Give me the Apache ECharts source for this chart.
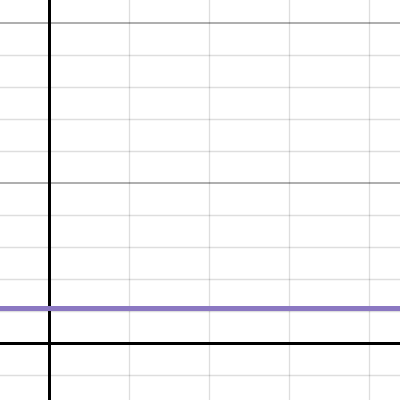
<!DOCTYPE html>
<html><head><meta charset="utf-8">
<script src="https://cdn.jsdelivr.net/npm/echarts@6/dist/echarts.min.js"></script>
<style>html,body{margin:0;padding:0;background:#fff}#c{width:400px;height:400px}</style>
</head><body><div id="c"></div>
<script>
// data
const lineX = [-1, 5];
const lineY = [1.08, 1.08];
// axis ranges (tick units)
const xRange = [-1, 5];
const yRange = [-5, 15];

const chart = echarts.init(document.getElementById('c'), null, {renderer: 'canvas'});
chart.setOption({
  animation: false,
  backgroundColor: '#ffffff',
  grid: {left: -31, right: -49, top: -137, bottom: -103, containLabel: false, outerBoundsMode: 'none'},
  xAxis: {
    type: 'value', min: xRange[0], max: xRange[1], interval: 1,
    axisLine: {show: true, onZero: true, lineStyle: {color: '#000', width: 3}},
    axisTick: {show: false}, axisLabel: {show: false},
    splitLine: {show: true, lineStyle: {color: 'rgba(0,0,0,0.13)', width: 1.3}}
  },
  yAxis: {
    type: 'value', min: yRange[0], max: yRange[1], interval: 5,
    axisLine: {show: true, onZero: true, lineStyle: {color: '#000', width: 3}},
    axisTick: {show: false}, axisLabel: {show: false},
    splitLine: {show: true, lineStyle: {color: 'rgba(0,0,0,0.42)', width: 1.6}},
    minorTick: {show: false, splitNumber: 5},
    minorSplitLine: {show: true, lineStyle: {color: 'rgba(0,0,0,0.13)', width: 1.3}}
  },
  series: [{
    type: 'line',
    data: lineX.map((x, i) => [x, lineY[i]]),
    symbol: 'none',
    lineStyle: {color: '#8b78c2', width: 5},
    z: 1
  }]
});
</script></body></html>
